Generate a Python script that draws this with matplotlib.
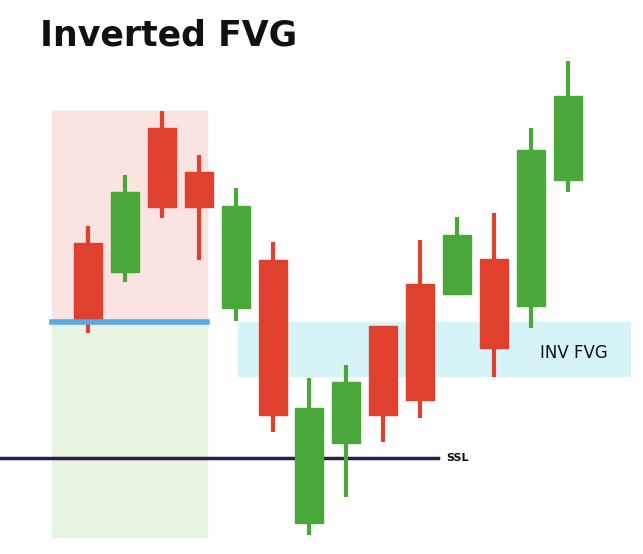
import matplotlib
matplotlib.use("Agg")
import matplotlib.pyplot as plt
from matplotlib.patches import Rectangle

H = 554
# prices (higher = up)
opens  = [311, 282, 426, 382, 246, 294, 31, 111, 228, 270, 260, 295, 248, 374]
closes = [234, 362, 347, 347, 348, 139, 146, 172, 139, 154, 319, 206, 404, 458]
highs  = [328, 379, 443, 399, 366, 312, 176, 189, 228, 314, 337, 341, 426, 493]
lows   = [221, 272, 336, 294, 233, 122, 19, 57, 112, 136, 260, 177, 226, 362]

fig = plt.figure(figsize=(6.43, 5.54), dpi=100)
ax = fig.add_axes([0, 0, 1, 1])
step = 36.9
x0 = 88
ax.set_xlim(-x0/step, (643-x0)/step)
ax.set_ylim(0, H)
ax.axis("off")

def px(x):
    return (x - x0) / step

ax.add_patch(Rectangle((px(52), H-322), px(207)-px(52), 211, color="#fbe3e1", zorder=0))
ax.add_patch(Rectangle((px(52), H-537), px(207)-px(52), 215, color="#e8f4e2", zorder=0))
ax.add_patch(Rectangle((px(238), H-376), px(630)-px(238), 54, color="#d6f3f7", zorder=0))
ax.plot([px(52), px(207)], [H-322, H-322], color="#5aa9e6", lw=4, zorder=3)
ax.plot([px(0), px(438)], [H-458, H-458], color="#2d1b4e", lw=2.5, zorder=1)

w = 28/step
for i, (o, c, h, l) in enumerate(zip(opens, closes, highs, lows)):
    col = "#4aa83a" if c > o else "#e0412e"
    ax.plot([i, i], [l, h], color=col, lw=3, zorder=2, solid_capstyle="butt")
    ax.add_patch(Rectangle((i - w/2, min(o, c)), w, abs(c-o), color=col, zorder=2))

ax.text(px(446), H-458, "SSL", fontsize=8, fontweight="bold", va="center", color="#111")
ax.text(px(540), H-353, "INV FVG", fontsize=12, fontweight="medium", va="center", color="#111")
ax.text(px(40), H-35, "Inverted FVG", fontsize=25, fontweight="bold", va="center", color="#111")
fig.savefig("out.png", dpi=100)
